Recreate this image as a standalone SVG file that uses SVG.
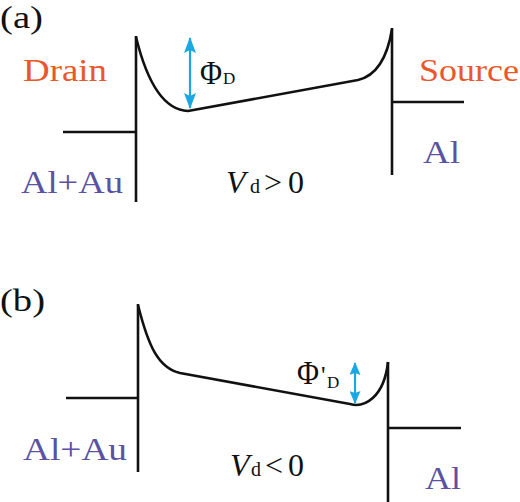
<svg xmlns="http://www.w3.org/2000/svg" width="520" height="502" viewBox="0 0 520 502">
<style>
.ln{fill:none;stroke:#111;stroke-width:2.6;stroke-linecap:butt;stroke-linejoin:round}
text{font-family:'Liberation Serif','Times New Roman',Times,serif;fill:#111}
.or{fill:#e8582c}
.pu{fill:#5a52a2}
.ar{stroke:#1aa8e2;stroke-width:2.2;fill:none}
.ah{fill:#1aa8e2}
</style>
<defs>
<marker id="ah" viewBox="0 0 16 12" refX="15" refY="6" markerWidth="16" markerHeight="12" markerUnits="userSpaceOnUse" orient="auto-start-reverse">
<path d="M0,0 L16,6 L0,12 L3,6 Z" class="ah"/>
</marker>
<marker id="ah2" viewBox="0 0 13 11" refX="12" refY="5.5" markerWidth="13" markerHeight="11" markerUnits="userSpaceOnUse" orient="auto-start-reverse">
<path d="M0,0 L13,5.5 L0,11 L2,5.5 Z" class="ah"/>
</marker>
</defs>
<rect width="520" height="502" fill="#fff"/>
<g id="panel-a">
<text x="0" y="28" font-size="31" textLength="43" lengthAdjust="spacingAndGlyphs">(a)</text>
<g id="a-drain">
<line class="ln" x1="63" y1="132" x2="136" y2="132"/>
<line class="ln" x1="136" y1="36" x2="136" y2="202"/>
<text class="or" x="23" y="81" font-size="32" textLength="84" lengthAdjust="spacingAndGlyphs">Drain</text>
<text class="pu" x="21" y="193" font-size="32" textLength="102" lengthAdjust="spacingAndGlyphs">Al+Au</text>
</g>
<g id="a-source">
<line class="ln" x1="392" y1="28" x2="392" y2="175"/>
<line class="ln" x1="392" y1="102" x2="464" y2="102"/>
<text class="or" x="419" y="81" font-size="32" textLength="100" lengthAdjust="spacingAndGlyphs">Source</text>
<text class="pu" x="423" y="163" font-size="32" textLength="37" lengthAdjust="spacingAndGlyphs">Al</text>
</g>
<g id="a-band">
<path class="ln" d="M136,37 C146,78 162,110 188,111 L358,80 C375,76 387,60 392,29"/>
</g>
<g id="a-phi">
<line class="ar" x1="190" y1="38" x2="190" y2="108" marker-start="url(#ah)" marker-end="url(#ah)"/>
<text x="200" y="84" font-size="33" textLength="22" lengthAdjust="spacingAndGlyphs">Φ</text>
<text x="223" y="84" font-size="17">D</text>
</g>
<g id="a-vd">
<text x="226" y="193" font-size="32" font-style="italic">V</text>
<text x="250" y="193" font-size="20">d</text>
<text x="264" y="193" font-size="32">&gt;</text>
<text x="288" y="193" font-size="32">0</text>
</g>
</g>
<g id="panel-b">
<text x="0" y="311" font-size="31" textLength="45" lengthAdjust="spacingAndGlyphs">(b)</text>
<g id="b-drain">
<line class="ln" x1="66" y1="398" x2="138" y2="398"/>
<line class="ln" x1="138" y1="304" x2="138" y2="472"/>
<text class="pu" x="23" y="460" font-size="32" textLength="104" lengthAdjust="spacingAndGlyphs">Al+Au</text>
</g>
<g id="b-source">
<line class="ln" x1="388" y1="362" x2="388" y2="502"/>
<line class="ln" x1="388" y1="428" x2="461" y2="428"/>
<text class="pu" x="425" y="489" font-size="32" textLength="36" lengthAdjust="spacingAndGlyphs">Al</text>
</g>
<g id="b-band">
<path class="ln" d="M138,305 C148,345 158,368 180,373 L350,404 C364,408 384,398 388,362"/>
</g>
<g id="b-phi">
<line class="ar" x1="355" y1="363" x2="355" y2="403" marker-start="url(#ah2)" marker-end="url(#ah2)"/>
<text x="297" y="384" font-size="33" textLength="22" lengthAdjust="spacingAndGlyphs">Φ</text>
<text x="321" y="384" font-size="25">'</text>
<text x="327" y="388" font-size="17">D</text>
</g>
<g id="b-vd">
<text x="230" y="476" font-size="32" font-style="italic">V</text>
<text x="251" y="476" font-size="20">d</text>
<text x="265" y="476" font-size="32">&lt;</text>
<text x="288" y="476" font-size="32">0</text>
</g>
</g>
</svg>
